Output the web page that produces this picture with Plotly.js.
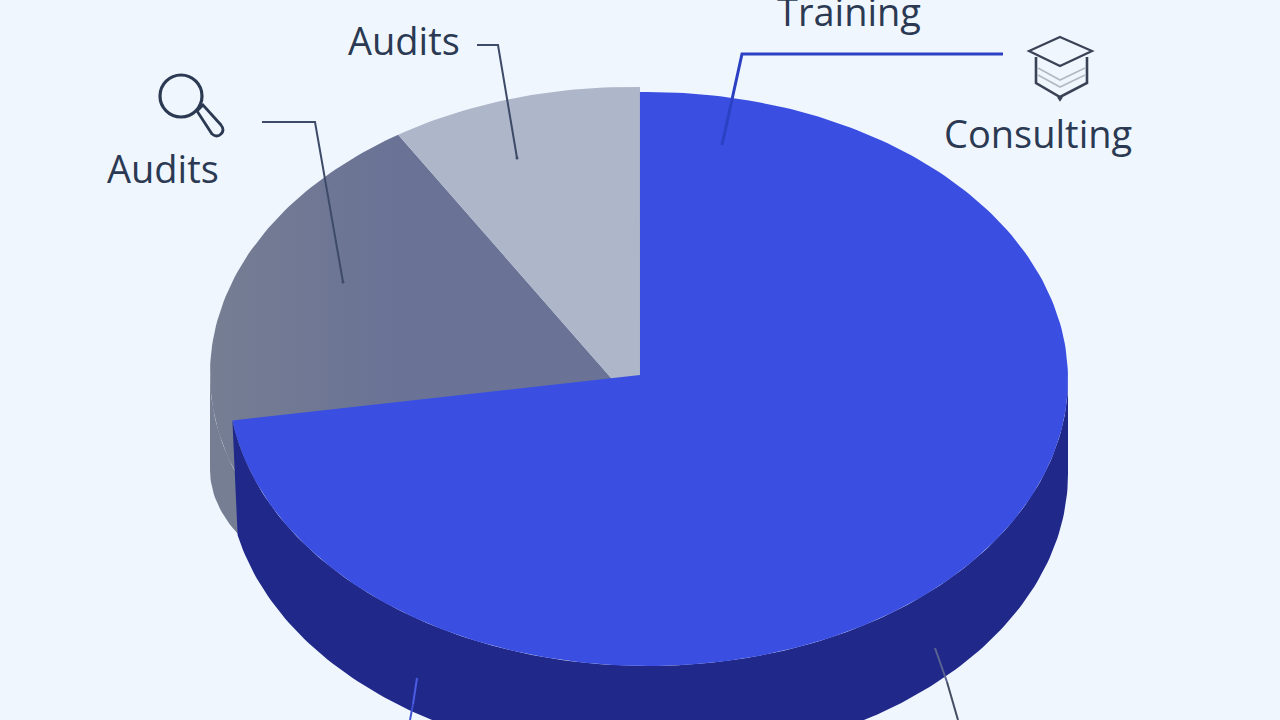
<!DOCTYPE html>
<html>
<head>
<meta charset="utf-8">
<script src="https://cdn.plot.ly/plotly-3.0.1.min.js"></script>
<style>html,body{margin:0;padding:0;background:#f0f6fe;overflow:hidden}#chart{width:1280px;height:720px}</style>
</head>
<body>
<div id="chart"></div>
<script>
// Values
const sliceNames  = ['Training', 'Audits', 'Audits'];
const sliceShares = [73, 18, 9];
const topColors   = ['#3a4fe2', '#6a7296', '#aeb6c9'];
const wallColors  = ['#20298a', '#767e93'];
const labelTexts  = ['Training', 'Audits', 'Audits', 'Consulting'];

// Drawing geometry of the tilted disc
const START_DEG = -1.1, DEG_PER_SHARE = 3.6;
const BLUE = {cx: 648, cy: 379, rx: 420, ry: 287, apexX: 640, apexY: 375, wallCy: 474, wallRy: 287};
const GREY = {cx: 630, cy: 374, rx: 420, ry: 287, apexX: 640, apexY: 411, wallCy: 470, wallRy: 179, topEdge: 1.36};

function rim(g, from, to, cy, ry) {
  const xs = [], ys = [], n = Math.max(2, Math.ceil(Math.abs(to - from)));
  for (let i = 0; i <= n; i++) {
    const t = (from + (to - from) * i / n) * Math.PI / 180;
    xs.push(g.cx + g.rx * Math.sin(t));
    ys.push(cy - ry * Math.cos(t));
  }
  return {xs, ys};
}
function poly(xs, ys, color, name) {
  return {type: 'scatter', mode: 'lines', x: xs, y: ys, fill: 'toself', fillcolor: color,
          line: {width: 0, color: color}, hoverinfo: 'skip', name: name, showlegend: false};
}
function wall(g, from, to, endTo, color, name) {
  const a = rim(g, from, to, g.cy, g.ry), b = rim(g, from, endTo, g.wallCy, g.wallRy);
  return poly(a.xs.concat(b.xs.slice().reverse()), a.ys.concat(b.ys.slice().reverse()), color, name);
}
function sector(g, from, to, color, name) {
  const a = rim(g, from, to, g.cy, g.ry);
  return poly([g.apexX].concat(a.xs, [g.apexX]), [g.apexY].concat(a.ys, [g.apexY]), color, name);
}

const blueEnd  = START_DEG + sliceShares[0] * DEG_PER_SHARE;
const lightLow = START_DEG - sliceShares[2] * DEG_PER_SHARE;
const darkLow  = lightLow - sliceShares[1] * DEG_PER_SHARE;
const darkHidden = darkLow - 14;   // runs on beneath the blue slice

const darkTop = sector(GREY, darkHidden, lightLow, topColors[1], sliceNames[1]);
darkTop.fillgradient = {type: 'horizontal', start: 210, stop: 400,
                        colorscale: [[0, wallColors[1]], [1, topColors[1]]]};

const traces = [
  wall(GREY, -90, darkHidden, darkHidden, wallColors[1], sliceNames[1] + ' side'),
  darkTop,
  sector(GREY, lightLow, GREY.topEdge, topColors[2], sliceNames[2]),
  wall(BLUE, 90, blueEnd, blueEnd - 4, wallColors[0], sliceNames[0] + ' side'),
  sector(BLUE, START_DEG, blueEnd, topColors[0], sliceNames[0])
];

const ink = '#2b3a52', leader = '#3d4a68', iconInk = '#3a4356';
function seg(path, color, width) {
  return {type: 'path', xref: 'x', yref: 'y', path: path, layer: 'above',
          line: {color: color, width: width}, fillcolor: 'rgba(0,0,0,0)'};
}
const shapes = [
  seg('M1003,54 L742,54 L722,145', '#2c40c4', 3),
  seg('M477,45 L498,45 L517,158', leader, 2),
  seg('M262,122 L315,122 L343,282', leader, 2),
  seg('M417,678 L413,704', '#4a5ce4', 2),
  seg('M413,704 L410,720', '#3d4fd0', 2),
  seg('M935,648 L947,682', '#59638f', 2),
  seg('M947,682 L958,720', '#444e62', 2),
  {type: 'circle', xref: 'x', yref: 'y', x0: 515.5, x1: 518.5, y0: 156.5, y1: 159.5, fillcolor: leader, line: {width: 0}, layer: 'above'},
  {type: 'circle', xref: 'x', yref: 'y', x0: 341.5, x1: 344.5, y0: 280.5, y1: 283.5, fillcolor: leader, line: {width: 0}, layer: 'above'},
  // magnifier icon
  {type: 'circle', xref: 'x', yref: 'y', x0: 160, x1: 202, y0: 75, y1: 117, line: {color: ink, width: 3.2}, fillcolor: 'rgba(0,0,0,0)', layer: 'above'},
  seg('M197,111 L203,105 L221,125 Q225,130 221,134 Q217,138 212,134 Z', ink, 2.8),
  // graduation cap icon
  seg('M1038,68 L1060,80 L1085,68', '#b3b8c2', 1.6),
  seg('M1038,75 L1060,87 L1085,75', '#b3b8c2', 1.6),
  seg('M1036,57 L1036,83 L1060,97 L1087,83 L1087,57', iconInk, 2.6),
  {type: 'path', xref: 'x', yref: 'y', path: 'M1060,37 L1092,51 L1060,66 L1029,51 Z', layer: 'above',
   line: {color: iconInk, width: 2.2}, fillcolor: '#f0f6fe'},
  seg('M1058,97 L1060,100 L1062,97', iconInk, 2)
];

function label(text, x, y) {
  return {x: x, y: y, xref: 'x', yref: 'y', text: text, showarrow: false,
          xanchor: 'center', yanchor: 'middle',
          font: {family: '"Open Sans", sans-serif', size: 38, color: ink}};
}
const annotations = [
  label(labelTexts[0], 848.5, 11),
  label(labelTexts[1], 404, 40),
  label(labelTexts[2], 162.5, 168),
  label(labelTexts[3], 1038, 132.5)
];

const layout = {
  width: 1280, height: 720,
  margin: {l: 0, r: 0, t: 0, b: 0},
  paper_bgcolor: '#f0f6fe', plot_bgcolor: '#f0f6fe',
  xaxis: {range: [0, 1280], visible: false, fixedrange: true},
  yaxis: {range: [720, 0], visible: false, fixedrange: true},
  showlegend: false, shapes: shapes, annotations: annotations
};
Plotly.newPlot('chart', traces, layout, {displayModeBar: false, staticPlot: true});
</script>
</body>
</html>
